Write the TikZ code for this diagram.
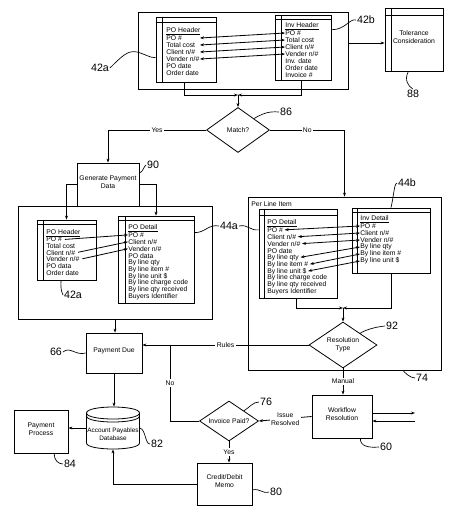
\documentclass[tikz,border=0pt]{standalone}
\usepackage{fontspec}
\setmainfont{Liberation Sans}
\usetikzlibrary{arrows.meta,shapes.geometric,fit,calc}
\newcommand\px{0.75pt}
\newcommand\fsm{\fontsize{5.1}{6}\selectfont}
\newcommand\fhw{\fontsize{8}{9}\selectfont}
\newcommand\tbllines[3]{%
  \draw ($(#1.north west)+(#2,0)$) -- ($(#1.south west)+(#2,0)$);
  \draw ($(#1.north west)+(0,#3)$) -- ($(#1.north east)+(0,#3)$);}
\tikzset{
  box/.style={draw, inner sep=0pt, align=center, font=\fsm},
  txt/.style={inner sep=0pt, align=center, font=\fsm},
  tbl/.style={draw, inner sep=0pt},
  row/.style={anchor=west, inner sep=0pt, font=\fsm},
  dia/.style={draw, diamond, aspect=1.5, inner sep=0pt, align=center, font=\fsm},
  onl/.style={fill=white, inner sep=1pt, align=center, font=\fsm},
  num/.style={inner sep=0.5pt, font=\fhw},
  lead/.style={line width=0.5pt},
}
\begin{document}
\begin{tikzpicture}[x=0.75pt,y=-0.75pt,line width=0.6pt,>={Stealth[length=3pt,width=2.2pt]}]
\useasboundingbox (0,0) rectangle (474,524);

% ---------- top block ----------
\node[tbl, fit={(138,12) (348,89)}] (out1) {};
\node[tbl, fit={(156,17) (216,82)}] (t1) {};
\tbllines{t1}{7}{6}
\node[row] (a1) at (166,31) {\underline{PO Header}};
\foreach \s [count=\i from 2] in {PO \#,Total cost,Client n/\#,Vender n/\#,PO date,Order date}
  \node[row] (a\i) at (166,{31+7*(\i-1)}) {\s};

\node[tbl, fit={(275,15) (331,80)}] (t2) {};
\tbllines{t2}{7}{5}
\node[row] (b1) at (285,26) {\underline{Inv Header}};
\foreach \s [count=\i from 2] in {PO \#,Total cost,Client n/\#,Vender n/\#,Inv. date,Order date,Invoice \#}
  \node[row] (b\i) at (285,{26+7*(\i-1)}) {\s};

\coordinate (L1) at (200,0);
\foreach \i in {2,...,5} \draw[<->] (a\i.east -| L1) -- (b\i.west);

\node[box, fit={(385,8) (443,71)}] (tol) {Tolerance\\Consideration};
\tbllines{tol}{7}{8}
\coordinate (ta) at (0,43);
\draw[->] (out1.east |- ta) -- (tol.west |- ta);

\node[dia, minimum width=63*\px, minimum height=45*\px] (match) at (238,130) {Match?};
\coordinate (J1) at (238,95);
\draw[->] ($(t1.south west)+(29,0)$) |- (J1);
\draw[->] ($(t2.south west)+(27,0)$) |- (J1);
\draw[->] (J1) -- (match.north);

% ---------- yes branch ----------
\node[tbl, fit={(18,206) (212,319)}] (out2) {};
\node[box, fill=white, fit={(77,163) (139,206)}] (gp) {Generate Payment\\Data};
\draw[->] (match.west) -| node[onl, pos=0.25] {Yes} (gp.north);

\node[tbl, fit={(37,220) (96,280)}] (t3) {};
\tbllines{t3}{7}{5}
\node[row] (c1) at (46,233) {\underline{PO Header}};
\foreach \s [count=\i from 2] in {PO \#,Total cost,Client n/\#,Vender n/\#,PO data,Order date}
  \node[row] (c\i) at (46,{233+6.6*(\i-1)}) {\s};

\node[tbl, fit={(118,216) (194,303)}] (t4) {};
\tbllines{t4}{8}{5}
\node[row] (d1) at (128,228) {\underline{PO Detail}};
\foreach \s [count=\i from 2] in {PO \#,Client n/\#,Vender n/\#,PO data,By line qty,By line item \#,By line unit \$,By line charge code,By line qty received,Buyers Identifier}
  \node[row] (d\i) at (128,{228+6.9*(\i-1)}) {\s};

\draw[->] (gp.west) -| (t3.north);
\draw[->] (gp.east) -| (t4.north);
\draw[->, shorten <=2pt] (c2.east) -- (d2.west);
\draw[->, shorten <=2pt] (c4.east) -- (d3.west);
\draw[->, shorten <=2pt] (c5.east) -- (d4.west);

% ---------- no branch ----------
\node[tbl, fit={(248,197) (441,370)}] (plb) {};
\draw[->] (match.east) -| node[onl, pos=0.25] {No} (plb.north);
\node[row] (pli) at (251,204) {Per Line Item};

\node[tbl, fit={(259,209) (337,298)}] (t5) {};
\tbllines{t5}{6}{7}
\node[row] (e1) at (267,223) {\underline{PO Detail}};
\foreach \s [count=\i from 2] in {PO \#,Client n/\#,Vender n/\#,PO date,By line qty,By line item \#,By line unit \$,By line charge code,By line qty received,Buyers Identifier}
  \node[row] (e\i) at (267,{223+6.9*(\i-1)}) {\s};

\node[tbl, fit={(352,208) (430,273)}] (t6) {};
\tbllines{t6}{6}{5}
\node[row] (f1) at (360,219) {\underline{Inv Detail}};
\foreach \s [count=\i from 2] in {PO \#,Client n/\#,Vender n/\#,By line qty,By line item \#,By line unit \$}
  \node[row] (f\i) at (360,{219+7*(\i-1)}) {\s};

\foreach \p/\q in {2/2,3/3,4/4,6/5,7/6,8/7}
  \draw[<->, shorten <=1pt] (e\p.east) -- (f\q.west);

\node[dia, minimum width=68*\px, minimum height=46*\px] (res) at (343,345) {Resolution\\Type};
\coordinate (J2) at (343,308);
\draw[->] ($(t5.south west)+(38,0)$) |- (J2);
\draw[->] ($(t6.south west)+(40,0)$) |- (J2);
\draw[->] (J2) -- (res.north);

% ---------- bottom ----------
\node[box, fit={(86,333) (142,373)}] (pd) {Payment Due};
\draw[->] (out2.south) -- (out2.south |- pd.north);
\draw[->] (res.west) -- node[onl] {Rules} (res.west -| pd.east);

\node[box, fit={(312,395) (372,438)}] (wf) {Workflow\\Resolution};
\draw[->] (res.south) -- node[onl] {Manual} (res.south |- wf.north);

\node[dia, minimum width=59*\px, minimum height=40*\px] (inv) at (229,421) {Invoice Paid?};
\draw[->] (wf.west) -- node[onl] {Issue\\Resolved} (inv.east);
\coordinate (nj) at (170,345);
\draw (inv.west) -| node[onl, pos=0.75] {No} (nj);

\coordinate (o1) at (415,413);
\coordinate (o2) at (415,421);
\draw[->] (wf.east |- o1) -- (o1);
\draw[->] (o2) -- (wf.east |- o2);

\node[inner sep=0pt, minimum width=53*\px, minimum height=42*\px] (db) at (113,428) {};
\draw (86.5,413) .. controls (86.5,405) and (139.5,405) .. (139.5,413) .. controls (139.5,421) and (86.5,421) .. cycle;
\draw (86.5,416) .. controls (86.5,424) and (139.5,424) .. (139.5,416);
\draw (86.5,413) -- (86.5,443) .. controls (86.5,451) and (139.5,451) .. (139.5,443) -- (139.5,413);
\node[txt, font=\fontsize{4.8}{6}\selectfont] (dbt) at (113,434) {Account Payables\\Database};
\draw[->] (pd.south) -- (pd.south |- db.north);

\node[box, fit={(14,410) (68,453)}] (pp) {Payment\\Process};
\draw[->] (db.west) -- (db.west -| pp.east);

\node[box, fit={(197,463) (252,505)}] (memo) {Credit/Debit\\Memo};
\draw[->] (inv.south) -- node[onl] {Yes} (inv.south |- memo.north);
\draw[->] (memo.west) -| (db.south);

% ---------- reference numerals ----------
\node[num] (n42a) at (100,68) {42a};
\node[num] (n42b) at (366,20) {42b};
\node[num] (n88) at (413,94) {88};
\node[num] (n86) at (286,112) {86};
\node[num] (n90) at (153,165) {90};
\node[num] (n44a) at (229,226) {44a};
\node[num] (n42c) at (73,295) {42a};
\node[num] (n44b) at (407,183) {44b};
\node[num] (n92) at (392,326) {92};
\node[num] (n74) at (422,378) {74};
\node[num] (n66) at (56,352) {66};
\node[num] (n82) at (157,444) {82};
\node[num] (n84) at (70,464) {84};
\node[num] (n76) at (266,402) {76};
\node[num] (n60) at (386,447) {60};
\node[num] (n80) at (276,492) {80};

\draw[lead] (n42a.east) .. controls (122,56) and (128,50) .. (137,52) .. controls (145,54) and (150,58) .. (t1.195);
\draw[lead] (n42b.west) .. controls (350,18) and (345,30) .. (t2.32);
\draw[lead] (tol.-100) .. controls (404,80) and (408,86) .. (n88.north);
\draw[lead] (match.north east) .. controls (262,114) and (268,111) .. (n86.west);
\draw[lead] (gp.20) .. controls (143,172) and (144,166) .. (n90.west);
\draw[lead] (t4.35) .. controls (205,233) and (208,224) .. (n44a.west);
\draw[lead] (n44a.east) .. controls (248,224) and (250,231) .. (t5.149);
\draw[lead] (t3.-100) .. controls (60,290) and (63,295) .. (n42c.west);
\draw[lead] (n44b.west) .. controls (394,184) and (394,195) .. (t6.north);
\draw[lead] (res.north east) .. controls (365,330) and (375,327) .. (n92.west);
\draw[lead] (plb.-56) .. controls (404,372) and (410,378) .. (n74.west);
\draw[lead] (n66.east) .. controls (70,346) and (76,356) .. (pd.west);
\draw[lead] (db.east) .. controls (146,430) and (145,444) .. (n82.west);
\draw[lead] (pp.-59) .. controls (54,460) and (58,464) .. (n84.west);
\draw[lead] (inv.north east) .. controls (250,407) and (253,402) .. (n76.west);
\draw[lead] (wf.-50) .. controls (360,446) and (368,448) .. (n60.west);
\draw[lead] (memo.-12) .. controls (260,488) and (262,494) .. (n80.west);
\end{tikzpicture}
\end{document}
